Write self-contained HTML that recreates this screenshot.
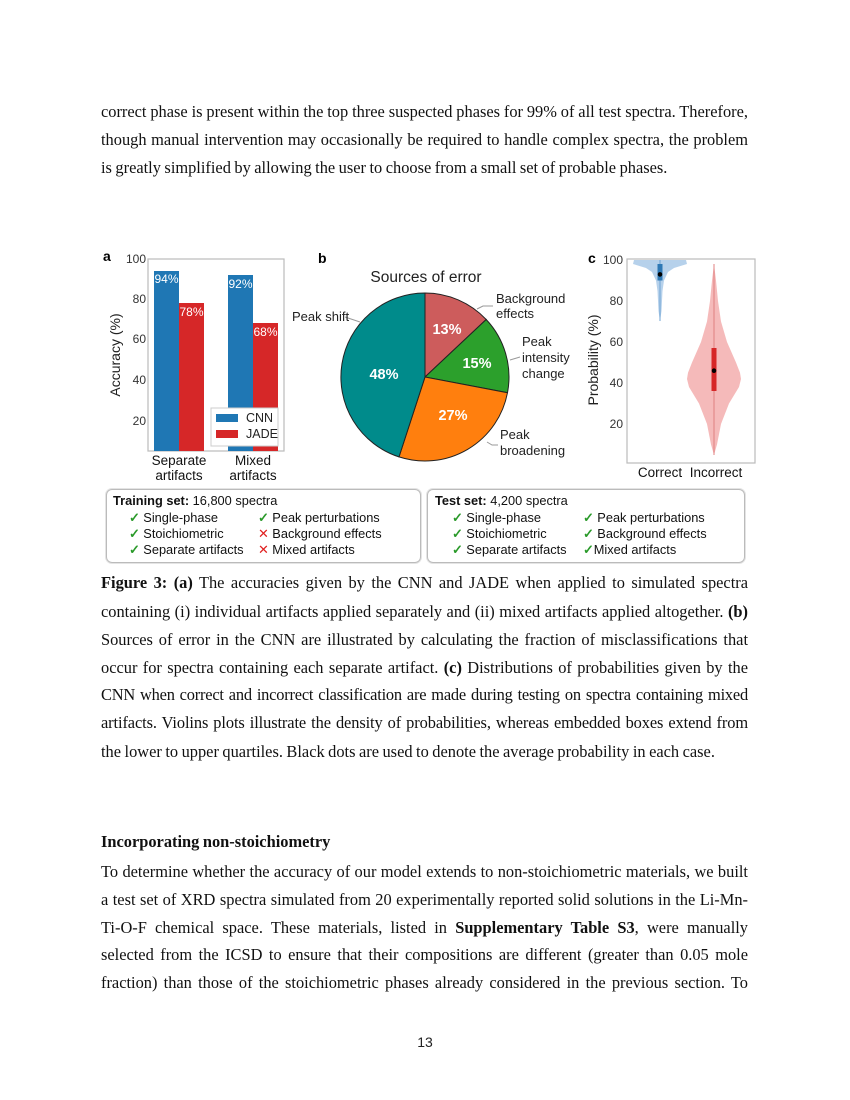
<!DOCTYPE html>
<html><head><meta charset="utf-8"><style>
body{margin:0;background:#fff}
#pg{position:relative;width:850px;height:1100px;overflow:hidden;background:#fff}
.t{position:absolute;left:101px;width:647px;font-family:"Liberation Serif",serif;font-size:16.4px;color:#111;line-height:20px;white-space:nowrap;word-spacing:-0.6px}
.j{text-align:justify;text-align-last:justify;white-space:normal;height:20px;overflow:hidden}
.s{font-family:"Liberation Sans",sans-serif}
.box{position:absolute;border:1.5px solid #bbb;border-radius:6px;box-shadow:0 0 0 1px #e4e4e4}
.bl{position:absolute;font-family:"Liberation Sans",sans-serif;font-size:12.8px;color:#111;white-space:nowrap;line-height:16px}
.ck{color:#2a9a2a;font-weight:bold}
.x{color:#e02020}
</style></head><body><div id="pg">
<div class="t j" style="top:102px">correct phase is present within the top three suspected phases for 99% of all test spectra. Therefore,</div>
<div class="t j" style="top:130px">though manual intervention may occasionally be required to handle complex spectra, the problem</div>
<div class="t" style="top:158px">is greatly simplified by allowing the user to choose from a small set of probable phases.</div>

<svg width="850" height="1100" style="position:absolute;left:0;top:0" font-family="Liberation Sans, sans-serif">
<text x="103" y="261" font-size="14" font-weight="bold">a</text>
<rect x="148" y="259" width="136" height="192" fill="none" stroke="#bbb" stroke-width="1.2"/>
<g fill="#1f77b4"><rect x="154" y="271" width="25" height="180"/><rect x="228" y="275" width="25" height="176"/></g>
<g fill="#d62728"><rect x="179" y="303" width="25" height="148"/><rect x="253" y="323" width="25" height="128"/></g>
<g fill="#fff" font-size="12" text-anchor="middle"><text x="166.5" y="283">94%</text><text x="191.5" y="316">78%</text><text x="240.5" y="288">92%</text><text x="265.5" y="336">68%</text></g>
<g font-size="12" fill="#333" text-anchor="end"><text x="146" y="263">100</text><text x="146" y="303">80</text><text x="146" y="343">60</text><text x="146" y="384">40</text><text x="146" y="425">20</text></g>
<text transform="translate(120,355) rotate(-90)" font-size="14" fill="#222" text-anchor="middle">Accuracy (%)</text>
<rect x="211" y="408" width="67" height="38" fill="#fff" stroke="#ccc"/>
<rect x="216" y="414" width="22" height="8" fill="#1f77b4"/><rect x="216" y="430" width="22" height="8" fill="#d62728"/>
<text x="246" y="422" font-size="12.5" fill="#222">CNN</text><text x="246" y="438" font-size="12.5" fill="#222">JADE</text>
<g font-size="13.5" fill="#111" text-anchor="middle"><text x="179" y="465">Separate</text><text x="179" y="480">artifacts</text><text x="253" y="465">Mixed</text><text x="253" y="480">artifacts</text></g>
<text x="318" y="263" font-size="14" font-weight="bold">b</text>
<text x="426" y="282" font-size="15.5" fill="#222" text-anchor="middle">Sources of error</text>
<g stroke="#222" stroke-width="1">
<path d="M425 377 L425 293 A84 84 0 0 1 486.2 319.5 Z" fill="#cd5c5c"/>
<path d="M425 377 L486.2 319.5 A84 84 0 0 1 507.5 392.7 Z" fill="#2ca02c"/>
<path d="M425 377 L507.5 392.7 A84 84 0 0 1 399 456.9 Z" fill="#ff7f0e"/>
<path d="M425 377 L399 456.9 A84 84 0 0 1 425 293 Z" fill="#008b8b"/>
</g>
<g fill="#fff" font-size="14.5" font-weight="bold" text-anchor="middle"><text x="447" y="334">13%</text><text x="477" y="368">15%</text><text x="384" y="379">48%</text><text x="453" y="420">27%</text></g>
<g stroke="#999" fill="none"><path d="M345 317 L360 322"/><path d="M477 309 L483 306 L493 306"/><path d="M510 360 L520 357"/><path d="M487 442 L492 445 L498 445"/></g>
<g font-size="13" fill="#222"><text x="292" y="321">Peak shift</text><text x="496" y="303">Background</text><text x="496" y="318">effects</text>
<text x="522" y="346">Peak</text><text x="522" y="362">intensity</text><text x="522" y="378">change</text>
<text x="500" y="439">Peak</text><text x="500" y="455">broadening</text></g>
<text x="588" y="263" font-size="14" font-weight="bold">c</text>
<rect x="627" y="259" width="128" height="204" fill="none" stroke="#bbb" stroke-width="1.2"/>
<path d="M634 260 L686 260 L687 264 L674 268 L668 272 L664 280.5 L662.5 291 L662 301 L661.5 311 L660 321.5 L658.5 311 L658 301 L657.5 291 L656 280.5 L652 272 L646 268 L633 264 Z" fill="#a9c9e8" opacity="0.85"/>
<line x1="660" y1="260" x2="660" y2="321" stroke="#6fa3d3" stroke-width="1"/>
<rect x="657.5" y="264" width="5" height="16.5" fill="#2f79b5"/>
<circle cx="660" cy="274.4" r="2.3" fill="#000"/>
<path d="M714 264 L716 280.5 L718 301 L721 321.5 L727 342 L736 362.5 L740 372.7 L741 379 L739 387 L729 403.5 L721 424 L717 444.5 L714 455 L711 444.5 L707 424 L699 403.5 L689 387 L687 379 L688 372.7 L692 362.5 L701 342 L707 321.5 L710 301 L712 280.5 Z" fill="#f4b3b3" opacity="0.9"/>
<line x1="714" y1="264" x2="714" y2="455" stroke="#e08080" stroke-width="1"/>
<rect x="711.5" y="348" width="5" height="43" fill="#d62728"/>
<circle cx="714" cy="370.7" r="2.3" fill="#000"/>
<g font-size="12" fill="#333" text-anchor="end"><text x="623" y="264">100</text><text x="623" y="305">80</text><text x="623" y="346">60</text><text x="623" y="387">40</text><text x="623" y="428">20</text></g>
<text transform="translate(598,360) rotate(-90)" font-size="14" fill="#222" text-anchor="middle">Probability (%)</text>
<g font-size="13.5" fill="#111" text-anchor="middle"><text x="660" y="477">Correct</text><text x="716" y="477">Incorrect</text></g>
</svg>

<div class="box" style="left:106px;top:489px;width:313px;height:72px"></div>
<div class="box" style="left:427px;top:489px;width:316px;height:72px"></div>
<div class="bl" style="left:113px;top:493px"><b>Training set:</b> 16,800 spectra</div>
<div class="bl" style="left:129px;top:510px"><span class="ck">✓</span> Single-phase</div>
<div class="bl" style="left:129px;top:526px"><span class="ck">✓</span> Stoichiometric</div>
<div class="bl" style="left:129px;top:542px"><span class="ck">✓</span> Separate artifacts</div>
<div class="bl" style="left:258px;top:510px"><span class="ck">✓</span> Peak perturbations</div>
<div class="bl" style="left:258px;top:526px"><span class="x">✕</span> Background effects</div>
<div class="bl" style="left:258px;top:542px"><span class="x">✕</span> Mixed artifacts</div>
<div class="bl" style="left:435px;top:493px"><b>Test set:</b> 4,200 spectra</div>
<div class="bl" style="left:452px;top:510px"><span class="ck">✓</span> Single-phase</div>
<div class="bl" style="left:452px;top:526px"><span class="ck">✓</span> Stoichiometric</div>
<div class="bl" style="left:452px;top:542px"><span class="ck">✓</span> Separate artifacts</div>
<div class="bl" style="left:583px;top:510px"><span class="ck">✓</span> Peak perturbations</div>
<div class="bl" style="left:583px;top:526px"><span class="ck">✓</span> Background effects</div>
<div class="bl" style="left:583px;top:542px"><span class="ck">✓</span>Mixed artifacts</div>

<div class="t j" style="top:573px"><b>Figure 3: (a)</b> The accuracies given by the CNN and JADE when applied to simulated spectra</div>
<div class="t j" style="top:602px;word-spacing:-1.5px">containing (i) individual artifacts applied separately and (ii) mixed artifacts applied altogether. <b>(b)</b></div>
<div class="t j" style="top:630px">Sources of error in the CNN are illustrated by calculating the fraction of misclassifications that</div>
<div class="t j" style="top:658px">occur for spectra containing each separate artifact. <b>(c)</b> Distributions of probabilities given by the</div>
<div class="t j" style="top:685px;word-spacing:-3px;letter-spacing:-0.2px">CNN when correct and incorrect classification are made during testing on spectra containing mixed</div>
<div class="t j" style="top:713px;word-spacing:-2.5px;letter-spacing:-0.1px">artifacts. Violins plots illustrate the density of probabilities, whereas embedded boxes extend from</div>
<div class="t" style="top:742px">the lower to upper quartiles. Black dots are used to denote the average probability in each case.</div>

<div class="t" style="top:832px"><b>Incorporating non-stoichiometry</b></div>
<div class="t j" style="top:862px;word-spacing:-1.5px">To determine whether the accuracy of our model extends to non-stoichiometric materials, we built</div>
<div class="t j" style="top:890px;word-spacing:-1.5px">a test set of XRD spectra simulated from 20 experimentally reported solid solutions in the Li-Mn-</div>
<div class="t j" style="top:918px">Ti-O-F chemical space. These materials, listed in <b>Supplementary Table S3</b>, were manually</div>
<div class="t j" style="top:945px">selected from the ICSD to ensure that their compositions are different (greater than 0.05 mole</div>
<div class="t j" style="top:973px">fraction) than those of the stoichiometric phases already considered in the previous section. To</div>
<div class="s" style="position:absolute;left:0;width:850px;top:1034px;text-align:center;font-size:14px;color:#222">13</div>
</div></body></html>
